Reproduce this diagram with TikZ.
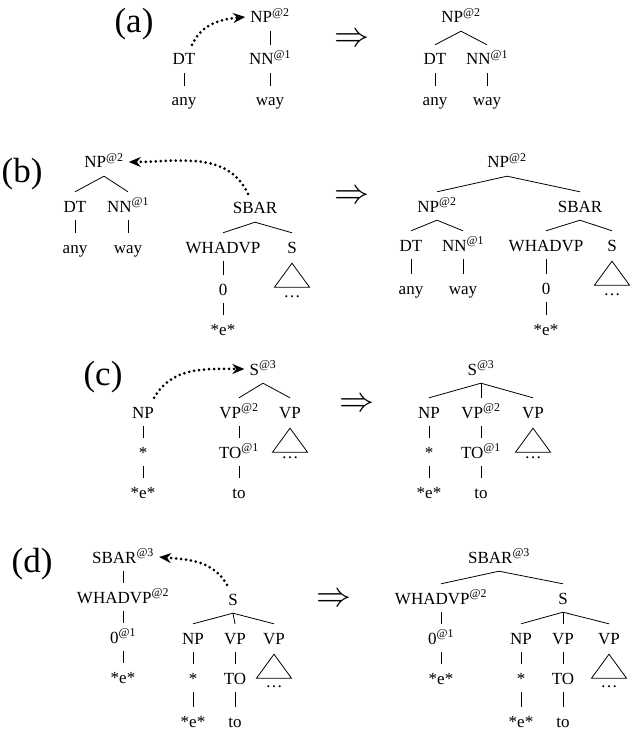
\documentclass[tikz,border=0pt]{standalone}
\usepackage{fontspec}
\setmainfont{Liberation Serif}
\usetikzlibrary{arrows.meta}
\newcommand\atsup[1]{\textsuperscript{@#1}}
\begin{document}
\begin{tikzpicture}[x=1pt,y=-1pt,
  t/.style={anchor=base, inner sep=0pt, text height=20pt, text depth=8pt, font=\fontsize{17}{20}\selectfont},
  lbl/.style={anchor=base, inner sep=0pt, font=\fontsize{35}{40}\selectfont},
  br/.style={line width=0.8pt},
  mv/.style={line width=3pt, dash pattern=on 0pt off 5pt, line cap=round, -{Stealth[length=12pt,width=10pt]}},
  impl/.style={inner sep=0pt},
  dts/.style={anchor=base, inner sep=0pt, font=\fontsize{17}{20}\selectfont}
]
\useasboundingbox (0,0) rectangle (634,735);

% ---------------- (a) ----------------
\node[lbl] (la) at (134,33) {(a)};
\node[t] (aDT) at (184,65) {DT};
\node[t] (aany) at (184,106) {any};
\node[t] (aNP) at (270,23) {NP\atsup2};
\node[t] (aNN) at (270,65) {NN\atsup1};
\node[t] (away) at (270,106) {way};
\draw[br] (aDT.south) -- (aany.north);
\draw[br] (aNP.south) -- (aNN.north);
\draw[br] (aNN.south) -- (away.north);
\draw[mv] ([xshift=8pt]aDT.north) to[out=65,in=185] ([xshift=-5pt]aNP.west);
\node[impl] (ia) at (352,40) {\scalebox{3.5}{$\Rightarrow$}};
\node[t] (aNPr) at (461,23) {NP\atsup2};
\node[t] (aDTr) at (435,65) {DT};
\node[t] (aNNr) at (487,65) {NN\atsup1};
\node[t] (aanyr) at (435,106) {any};
\node[t] (awayr) at (487,106) {way};
\draw[br] (aNPr.south) -- (aDTr.north);
\draw[br] (aNPr.south) -- (aNNr.north);
\draw[br] (aDTr.south) -- (aanyr.north);
\draw[br] (aNNr.south) -- (awayr.north);

% ---------------- (b) ----------------
\node[lbl] (lb) at (22,183) {(b)};
\node[t] (bNP) at (104,168) {NP\atsup2};
\node[t] (bDT) at (75,212) {DT};
\node[t] (bNN) at (128,212) {NN\atsup1};
\node[t] (bany) at (75,253) {any};
\node[t] (bway) at (128,253) {way};
\node[t] (bSB) at (255,214) {SBAR};
\node[t] (bWH) at (223,253) {WHADVP};
\node[t] (bS) at (292,253) {S};
\node[t] (b0) at (223,295) {0};
\node[t] (be) at (223,335) {*e*};
\draw[br] (bNP.south) -- (bDT.north);
\draw[br] (bNP.south) -- (bNN.north);
\draw[br] (bDT.south) -- (bany.north);
\draw[br] (bNN.south) -- (bway.north);
\draw[br] (bSB.south) -- (bWH.north);
\draw[br] (bSB.south) -- (bS.north);
\draw[br] (bWH.south) -- (b0.north);
\draw[br] (b0.south) -- (be.north);
\draw[br] ([yshift=-2pt]bS.south) -- ++(-17.5,24) -- ++(35,0) -- cycle;
\node[dts] (bdots) at (292,297) {\ldots};
\draw[mv] ([xshift=-7pt]bSB.north) to[out=115,in=0] ([xshift=5pt]bNP.east);
\node[impl] (ib) at (352,197) {\scalebox{3.5}{$\Rightarrow$}};

\node[t] (bNPt) at (507,168) {NP\atsup2};
\node[t] (bNPm) at (437,212) {NP\atsup2};
\node[t] (bSBr) at (580,212) {SBAR};
\node[t] (bDTr) at (411,251) {DT};
\node[t] (bNNr) at (463,251) {NN\atsup1};
\node[t] (bWHr) at (546,251) {WHADVP};
\node[t] (bSr) at (612,251) {S};
\node[t] (banyr) at (411,294) {any};
\node[t] (bwayr) at (463,294) {way};
\node[t] (b0r) at (546,294) {0};
\node[t] (ber) at (546,335) {*e*};
\draw[br] (bNPt.south) -- (bNPm.north);
\draw[br] (bNPt.south) -- (bSBr.north);
\draw[br] (bNPm.south) -- (bDTr.north);
\draw[br] (bNPm.south) -- (bNNr.north);
\draw[br] (bSBr.south) -- (bWHr.north);
\draw[br] (bSBr.south) -- (bSr.north);
\draw[br] (bDTr.south) -- (banyr.north);
\draw[br] (bNNr.south) -- (bwayr.north);
\draw[br] (bWHr.south) -- (b0r.north);
\draw[br] (b0r.south) -- (ber.north);
\draw[br] ([yshift=-2pt]bSr.south) -- ++(-17.5,24) -- ++(35,0) -- cycle;
\node[dts] (bdotsr) at (612,295) {\ldots};

% ---------------- (c) ----------------
\node[lbl] (lc) at (103,385) {(c)};
\node[t] (cS) at (263,375) {S\atsup3};
\node[t] (cNP) at (143,418) {NP};
\node[t] (cVPa) at (239,418) {VP\atsup2};
\node[t] (cVPb) at (290,418) {VP};
\node[t] (cst) at (143,458) {*};
\node[t] (cTO) at (239,458) {TO\atsup1};
\node[t] (ce) at (143,498) {*e*};
\node[t] (cto) at (239,498) {to};
\draw[br] (cS.south) -- (cVPa.north);
\draw[br] (cS.south) -- (cVPb.north);
\draw[br] (cNP.south) -- (cst.north);
\draw[br] (cst.south) -- (ce.north);
\draw[br] (cVPa.south) -- (cTO.north);
\draw[br] (cTO.south) -- (cto.north);
\draw[br] ([yshift=-2pt]cVPb.south) -- ++(-17.5,24) -- ++(35,0) -- cycle;
\node[dts] (cdots) at (290,458) {\ldots};
\draw[mv] (cNP.north east) to[out=60,in=180] ([xshift=-5pt]cS.west);
\node[impl] (ic) at (357,405) {\scalebox{3.5}{$\Rightarrow$}};

\node[t] (cSr) at (481,375) {S\atsup3};
\node[t] (cNPr) at (429,418) {NP};
\node[t] (cVPar) at (481,418) {VP\atsup2};
\node[t] (cVPbr) at (533,418) {VP};
\node[t] (cstr) at (429,458) {*};
\node[t] (cTOr) at (481,458) {TO\atsup1};
\node[t] (cer) at (429,498) {*e*};
\node[t] (ctor) at (481,498) {to};
\draw[br] (cSr.south) -- (cNPr.north);
\draw[br] (cSr.south) -- (cVPar.north);
\draw[br] (cSr.south) -- (cVPbr.north);
\draw[br] (cNPr.south) -- (cstr.north);
\draw[br] (cstr.south) -- (cer.north);
\draw[br] (cVPar.south) -- (cTOr.north);
\draw[br] (cTOr.south) -- (ctor.north);
\draw[br] ([yshift=-2pt]cVPbr.south) -- ++(-17.5,24) -- ++(35,0) -- cycle;
\node[dts] (cdotsr) at (533,458) {\ldots};

% ---------------- (d) ----------------
\node[lbl] (ld) at (32,572) {(d)};
\node[t] (dSB) at (123,563) {SBAR\atsup3};
\node[t] (dWH) at (123,603) {WHADVP\atsup2};
\node[t] (d0) at (123,643) {0\atsup1};
\node[t] (de) at (123,683) {*e*};
\node[t] (dS) at (233,605) {S};
\node[t] (dNP) at (193,644) {NP};
\node[t] (dVPa) at (235,644) {VP};
\node[t] (dVPb) at (274,644) {VP};
\node[t] (dst) at (193,684) {*};
\node[t] (dTO) at (235,684) {TO};
\node[t] (de2) at (193,727) {*e*};
\node[t] (dto) at (235,727) {to};
\draw[br] (dSB.south) -- (dWH.north);
\draw[br] (dWH.south) -- (d0.north);
\draw[br] (d0.south) -- (de.north);
\draw[br] (dS.south) -- (dNP.north);
\draw[br] (dS.south) -- (dVPa.north);
\draw[br] (dS.south) -- (dVPb.north);
\draw[br] (dNP.south) -- (dst.north);
\draw[br] (dst.south) -- (de2.north);
\draw[br] (dVPa.south) -- (dTO.north);
\draw[br] (dTO.south) -- (dto.north);
\draw[br] ([yshift=-2pt]dVPb.south) -- ++(-17.5,24) -- ++(35,0) -- cycle;
\node[dts] (ddots) at (274,687) {\ldots};
\draw[mv] ([xshift=-6pt]dS.north) to[out=120,in=-5] ([xshift=5pt]dSB.east);
\node[impl] (id) at (334,600) {\scalebox{3.5}{$\Rightarrow$}};

\node[t] (dSBr) at (499,563) {SBAR\atsup3};
\node[t] (dWHr) at (441,604) {WHADVP\atsup2};
\node[t] (dSr) at (563,604) {S};
\node[t] (d0r) at (441,644) {0\atsup1};
\node[t] (der) at (441,684) {*e*};
\node[t] (dNPr) at (521,644) {NP};
\node[t] (dVPar) at (563,644) {VP};
\node[t] (dVPbr) at (609,644) {VP};
\node[t] (dstr) at (521,684) {*};
\node[t] (dTOr) at (563,684) {TO};
\node[t] (de2r) at (521,727) {*e*};
\node[t] (dtor) at (563,727) {to};
\draw[br] (dSBr.south) -- (dWHr.north);
\draw[br] (dSBr.south) -- (dSr.north);
\draw[br] (dWHr.south) -- (d0r.north);
\draw[br] (d0r.south) -- (der.north);
\draw[br] (dSr.south) -- (dNPr.north);
\draw[br] (dSr.south) -- (dVPar.north);
\draw[br] (dSr.south) -- (dVPbr.north);
\draw[br] (dNPr.south) -- (dstr.north);
\draw[br] (dstr.south) -- (de2r.north);
\draw[br] (dVPar.south) -- (dTOr.north);
\draw[br] (dTOr.south) -- (dtor.north);
\draw[br] ([yshift=-2pt]dVPbr.south) -- ++(-17.5,24) -- ++(35,0) -- cycle;
\node[dts] (ddotsr) at (609,687) {\ldots};
\end{tikzpicture}
\end{document}
